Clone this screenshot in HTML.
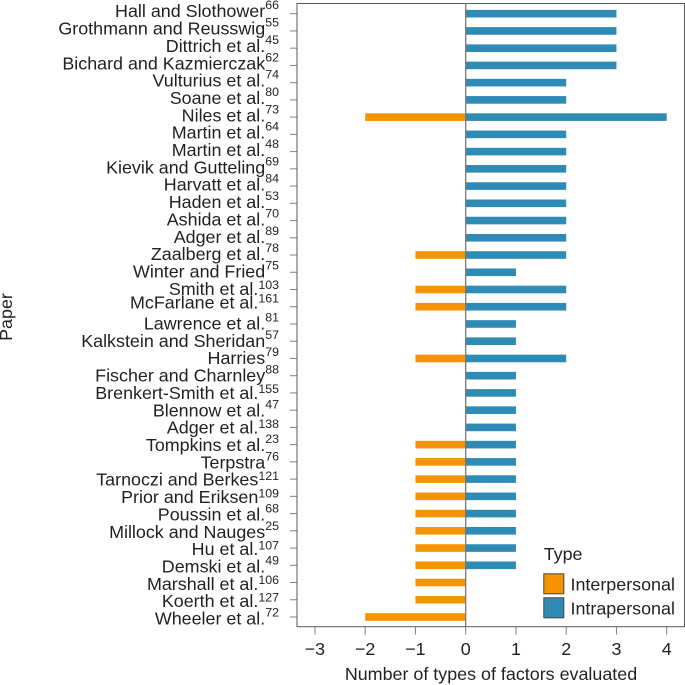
<!DOCTYPE html>
<html lang="en">
<head>
<meta charset="utf-8">
<title>Number of types of factors evaluated per paper</title>
<style>
html,body{margin:0;padding:0;background:#fff;width:685px;height:685px;overflow:hidden}
svg{display:block;font-family:"Liberation Sans",Arial,sans-serif;fill:#231f20}
</style>
</head>
<body>
<svg id="chart" width="685" height="685" viewBox="0 0 685 685"></svg>
<script>
const papers = ["Hall and Slothower","Grothmann and Reusswig","Dittrich et al.","Bichard and Kazmierczak","Vulturius et al.","Soane et al.","Niles et al.","Martin et al.","Martin et al.","Kievik and Gutteling","Harvatt et al.","Haden et al.","Ashida et al.","Adger et al.","Zaalberg et al.","Winter and Fried","Smith et al.","McFarlane et al.","Lawrence et al.","Kalkstein and Sheridan","Harries","Fischer and Charnley","Brenkert-Smith et al.","Blennow et al.","Adger et al.","Tompkins et al.","Terpstra","Tarnoczi and Berkes","Prior and Eriksen","Poussin et al.","Millock and Nauges","Hu et al.","Demski et al.","Marshall et al.","Koerth et al.","Wheeler et al."];
const refs = ["66","55","45","62","74","80","73","64","48","69","84","53","70","89","78","75","103","161","81","57","79","88","155","47","138","23","76","121","109","68","25","107","49","106","127","72"];
const interpersonal = [0,0,0,0,0,0,-2,0,0,0,0,0,0,0,-1,0,-1,-1,0,0,-1,0,0,0,0,-1,-1,-1,-1,-1,-1,-1,-1,-1,-1,-2];
const intrapersonal = [3,3,3,3,2,2,4,2,2,2,2,2,2,2,2,1,2,2,1,1,2,1,1,1,1,1,1,1,1,1,1,1,1,0,0,0];
const xTicks = [-3,-2,-1,0,1,2,3,4];

const NS = "http://www.w3.org/2000/svg";
const svg = document.getElementById("chart");
const panel = {left:297, right:684.5, top:3.5, bottom:626.7};
const xAt = v => 465.7 + v * 50.25;
const yAt = i => 13.7 + i * (603.3 / (papers.length - 1));
const ORANGE = "#f59400", BLUE = "#2e8bb5", AXIS = "#5a5a5a", TICK = "#808080";
const FONT = 17.9;

function make(tag, attrs, text){
  const el = document.createElementNS(NS, tag);
  for (const k in attrs) el.setAttribute(k, attrs[k]);
  if (text !== undefined) el.textContent = text;
  svg.appendChild(el);
  return el;
}
function slug(s){ return s.toLowerCase().replace(/[^a-z0-9]+/g, "-"); }

papers.forEach((name, i) => {
  const y = yAt(i);
  const tick = make("line", {x1:290, x2:panel.left, y1:y, y2:y, stroke:TICK, "stroke-width":1});
  
  

  let base = y + 3.5 + i * 0.115;
  if (name === "McFarlane et al.") base -= 3.9;
  const label = make("text", {x:279, y:base, "text-anchor":"end", "font-size":FONT}, name);
  
  
  const sup = document.createElementNS(NS, "tspan");
  sup.setAttribute("dy", refs[i].length === 3 ? "-5.8" : "-8");
  sup.setAttribute("font-size", "12.4");
  sup.textContent = refs[i];
  
  
  label.appendChild(sup);

  const h = 7.6;
  if (interpersonal[i] !== 0) {
    const b = make("rect", {x:xAt(interpersonal[i]), y:y - h/2, width:xAt(0) - xAt(interpersonal[i]), height:h, fill:ORANGE});
    
    
  }
  if (intrapersonal[i] !== 0) {
    const b = make("rect", {x:xAt(0), y:y - h/2, width:xAt(intrapersonal[i]) - xAt(0), height:h, fill:BLUE});
    
    
  }
});

xTicks.forEach(v => {
  const x = xAt(v);
  const t = make("line", {x1:x, x2:x, y1:panel.bottom, y2:panel.bottom + 8, stroke:TICK, "stroke-width":1});
  
  
  const l = make("text", {x:x, y:655, "text-anchor":"middle", "font-size":FONT}, v < 0 ? "\u2212" + Math.abs(v) : String(v));
  
  
});

const zero = make("line", {x1:xAt(0), x2:xAt(0), y1:panel.top, y2:panel.bottom, stroke:"#777", "stroke-width":1.3});



const frame = make("rect", {x:panel.left, y:panel.top, width:panel.right - panel.left, height:panel.bottom - panel.top, fill:"none", stroke:AXIS, "stroke-width":1});



const xTitle = make("text", {x:491, y:680, "text-anchor":"middle", "font-size":FONT}, "Number of types of factors evaluated");



const yTitle = make("text", {transform:"translate(12 317) rotate(-90)", "text-anchor":"middle", "font-size":FONT}, "Paper");



const legendTitle = make("text", {x:543.7, y:560, "font-size":FONT}, "Type");



const swatchA = make("rect", {x:543.8, y:573.8, width:20, height:20, fill:ORANGE, stroke:"#444", "stroke-width":1});


const labelA = make("text", {x:570.5, y:590.7, "font-size":FONT}, "Interpersonal");



const swatchB = make("rect", {x:543.8, y:597.8, width:20, height:20, fill:BLUE, stroke:"#444", "stroke-width":1});


const labelB = make("text", {x:570.5, y:614.7, "font-size":FONT}, "Intrapersonal");


</script>
</body>
</html>
